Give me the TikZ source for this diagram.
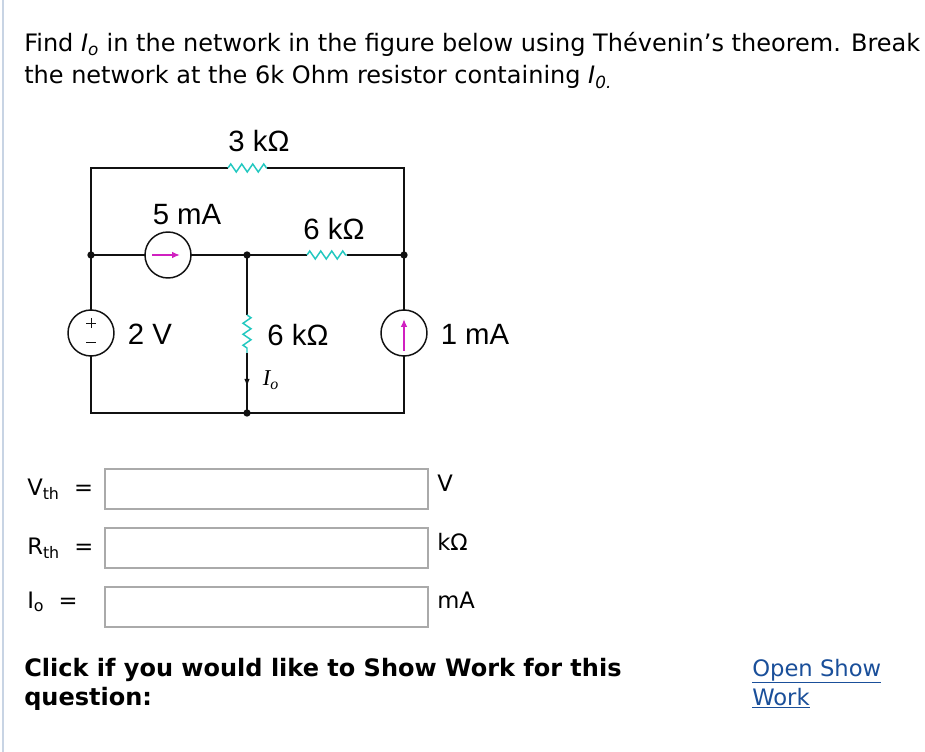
\documentclass[tikz,border=0pt]{standalone}
\usepackage{fontspec}
\setmainfont{DejaVu Sans}
\newfontfamily\arial{Liberation Sans}
\newfontfamily\tnr{Liberation Serif}
\usetikzlibrary{arrows.meta,decorations.pathmorphing}
\definecolor{wirec}{HTML}{111111}
\definecolor{resc}{HTML}{22C8C0}
\definecolor{arrc}{HTML}{D020C0}
\definecolor{boxc}{HTML}{AAAAAA}
\definecolor{linkc}{HTML}{1A4F9A}
\definecolor{sidec}{HTML}{C8D4E4}
\newlength\pxu \setlength\pxu{0.75pt}
\tikzset{
 wire/.style={draw=wirec,line width=1.1pt},
 dotn/.style={circle,fill=wirec,inner sep=0pt,minimum size=5.5pt},
 src/.style={circle,draw=wirec,line width=1.1pt,fill=white,minimum size=46\pxu,inner sep=0pt},
 res/.style={draw=resc,line width=1.1pt,decorate,decoration={zigzag,amplitude=4\pxu,segment length=11\pxu}},
 ctext/.style={font=\arial\fontsize{22}{26}\selectfont,inner sep=0pt},
 qtext/.style={font=\fontsize{17}{20}\selectfont,inner sep=0pt,anchor=base west},
 qbig/.style={qtext,font=\fontsize{18}{21}\selectfont},
 inbox/.style={draw=boxc,line width=0.8pt},
}
\begin{document}
\begin{tikzpicture}[x=0.75pt,y=-0.75pt]
\useasboundingbox (0,0) rectangle (925,752);
\clip (0,0) rectangle (925,752);
\fill[white] (0,0) rectangle (925,752);
\draw[sidec,line width=1.5pt] (3,0) -- (3,752);
% question
\node[qbig] (q1) at (24,52) {Find \textit{I\textsubscript{o}} in the network in the figure below using Thévenin's theorem. Break};
\node[qbig] (q2) at (24,84) {the network at the 6k Ohm resistor containing \textit{I\textsubscript{0.}}};
% circuit coordinates
\coordinate (tl) at (91,168); \coordinate (tr) at (404,168);
\node[dotn] (ml) at (91,255) {}; \node[dotn] (mm) at (247,255) {}; \node[dotn] (mr) at (404,255) {};
\coordinate (bl) at (91,413); \node[dotn] (bm) at (247,413) {}; \coordinate (br) at (404,413);
\coordinate (r3a) at (228,168); \coordinate (r3b) at (267,168);
\coordinate (r6a) at (307,255); \coordinate (r6b) at (347,255);
\coordinate (rva) at (247,315); \coordinate (rvb) at (247,353);
\draw[wire] (ml.center) -- (tl) -- (r3a); \draw[wire] (r3b) -- (tr) -- (mr.center);
\draw[wire] (ml.center) -- (mm.center) -- (r6a); \draw[wire] (r6b) -- (mr.center);
\draw[wire] (ml.center) -- (bl) -- (bm.center) -- (br) -- (mr.center);
\draw[wire] (mm.center) -- (rva); \draw[wire] (rvb) -- (bm.center);
\draw[res] (r3a) -- (r3b);
\draw[res] (r6a) -- (r6b);
\draw[res] (rva) -- (rvb);
\node[src] (s5) at (168,255) {};
\draw[arrc,line width=1.2pt,-{Latex[length=6pt,width=5pt]}] ([xshift=-16\pxu]s5.center) -- ([xshift=12\pxu]s5.center);
\node[src] (s2) at (91,333) {};
\draw[wirec,line width=0.6pt] ([yshift=10\pxu,xshift=-5\pxu]s2.center) -- ([yshift=10\pxu,xshift=5\pxu]s2.center);
\draw[wirec,line width=0.6pt] ([yshift=15\pxu]s2.center) -- ([yshift=5\pxu]s2.center);
\draw[wirec,line width=0.6pt] ([yshift=-9\pxu,xshift=-5\pxu]s2.center) -- ([yshift=-9\pxu,xshift=5\pxu]s2.center);
\node[src] (s1) at (404,333) {};
\draw[arrc,line width=1.2pt,-{Latex[length=6pt,width=5pt]}] ([yshift=-18\pxu]s1.center) -- ([yshift=14\pxu]s1.center);
\draw[wirec,line width=1pt,-{Latex[length=6pt,width=4pt]}] (247,375) -- (247,387);
% labels
\node[ctext] (l3k) at (259,141) {3 kΩ};
\node[ctext] (l5m) at (187,215) {5 mA};
\node[ctext] (l6k) at (334,229) {6 kΩ};
\node[ctext] (l2v) at (150,334) {2 V};
\node[ctext] (l6v) at (298,335) {6 kΩ};
\node[ctext] (l1m) at (475,334) {1 mA};
\node[font=\tnr\itshape\fontsize{17}{19}\selectfont,inner sep=0pt] (lio) at (271,380) {I\textsubscript{o}};
% form
\node[qtext] (vth) at (27,495) {V\textsubscript{th} \ =};
\node[qtext] (rth) at (27,554) {R\textsubscript{th} \ =};
\node[qtext] (io) at (27,608) {I\textsubscript{o} \ =};
\draw[inbox] (105,469) rectangle (428,509);
\draw[inbox] (105,528) rectangle (428,568);
\draw[inbox] (105,587) rectangle (428,627);
\node[qtext] (uv) at (437,491) {V};
\node[qtext] (uk) at (437,550) {kΩ};
\node[qtext] (um) at (437,608) {mA};
\node[qtext,font=\bfseries\fontsize{18}{21}\selectfont] (cl1) at (24,676) {Click if you would like to Show Work for this};
\node[qtext,font=\bfseries\fontsize{18}{21}\selectfont] (cl2) at (24,705) {question:};
\node[qtext,text=linkc] (ow1) at (752,676) {\underline{Open Show}};
\node[qtext,text=linkc] (ow2) at (752,705) {\underline{Work}};
\end{tikzpicture}
\end{document}
